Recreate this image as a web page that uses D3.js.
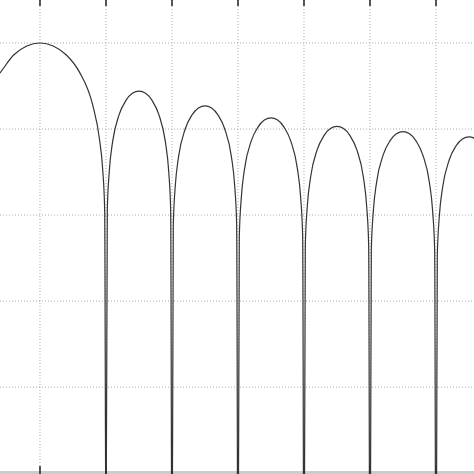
<!DOCTYPE html><html><head><meta charset="utf-8"><script src="https://d3js.org/d3.v7.min.js"></script>
<style>body{margin:0;background:#fff}</style></head><body><svg id="c" width="474" height="474"></svg>
<script>
const xTicks=[0,1,2,3,4,5,6];
const yTicks=[0,-10,-20,-30,-40,-50];
// lobe peaks (lobe index n: between nulls n and n+1)
const lobePeaks=[-5.6,-7.3,-8.7,-9.7,-10.3,-10.9];
const lobeT=[0,0.02,0.05,0.1,0.2,0.3,0.4,0.5,0.6,0.7,0.8,0.9,0.95,0.98,1];
const lobeOff=[-60,-13.8,-9.3,-5.9,-2.7,-1.1,-0.25,0,-0.25,-1.1,-2.7,-5.9,-9.3,-13.8,-60];
const mainU=[-0.62,-0.6,-0.4,-0.2,0,0.2,0.4,0.6,0.8,0.9,0.95,0.98,1];
const mainV=[-3.6,-3.41,-1.39,-0.34,0,-0.34,-1.39,-3.41,-7.25,-11.1,-14.7,-19.4,-60];
const svg=d3.select("#c");
const x=d3.scaleLinear().domain([-0.606,6.576]).range([0,474]);
const y=d3.scaleLinear().domain([5,-50.1]).range([0,474]);
svg.append("g").selectAll("line").data(xTicks).join("line")
 .attr("x1",d=>x(d)).attr("x2",d=>x(d)).attr("y1",0).attr("y2",474)
 .attr("stroke","#aaa").attr("stroke-dasharray","1,2");
svg.append("g").selectAll("line").data(yTicks).join("line")
 .attr("y1",d=>y(d)).attr("y2",d=>y(d)).attr("x1",0).attr("x2",474)
 .attr("stroke","#aaa").attr("stroke-dasharray","1,2");
svg.append("line").attr("x1",0).attr("x2",474).attr("y1",472.5).attr("y2",472.5).attr("stroke","#ccc").attr("stroke-width",3);
svg.append("g").selectAll("line").data(xTicks).join("line")
 .attr("x1",d=>x(d)).attr("x2",d=>x(d)).attr("y1",0).attr("y2",6).attr("stroke","#222").attr("stroke-width",1.5);
svg.append("g").selectAll("line").data(xTicks).join("line")
 .attr("x1",d=>x(d)).attr("x2",d=>x(d)).attr("y1",466).attr("y2",474).attr("stroke","#222").attr("stroke-width",1.5);
const pts=mainU.map((u,i)=>[u,mainV[i]]);
lobePeaks.forEach((p,n)=>{lobeT.forEach((t,i)=>{if(i===0)return;pts.push([1+n+t,p+lobeOff[i]]);});});
svg.append("path").datum(pts)
 .attr("d",d3.line().x(d=>x(d[0])).y(d=>y(d[1])).curve(d3.curveMonotoneX))
 .attr("fill","none").attr("stroke","#333").attr("stroke-width",1.2);
</script></body></html>
